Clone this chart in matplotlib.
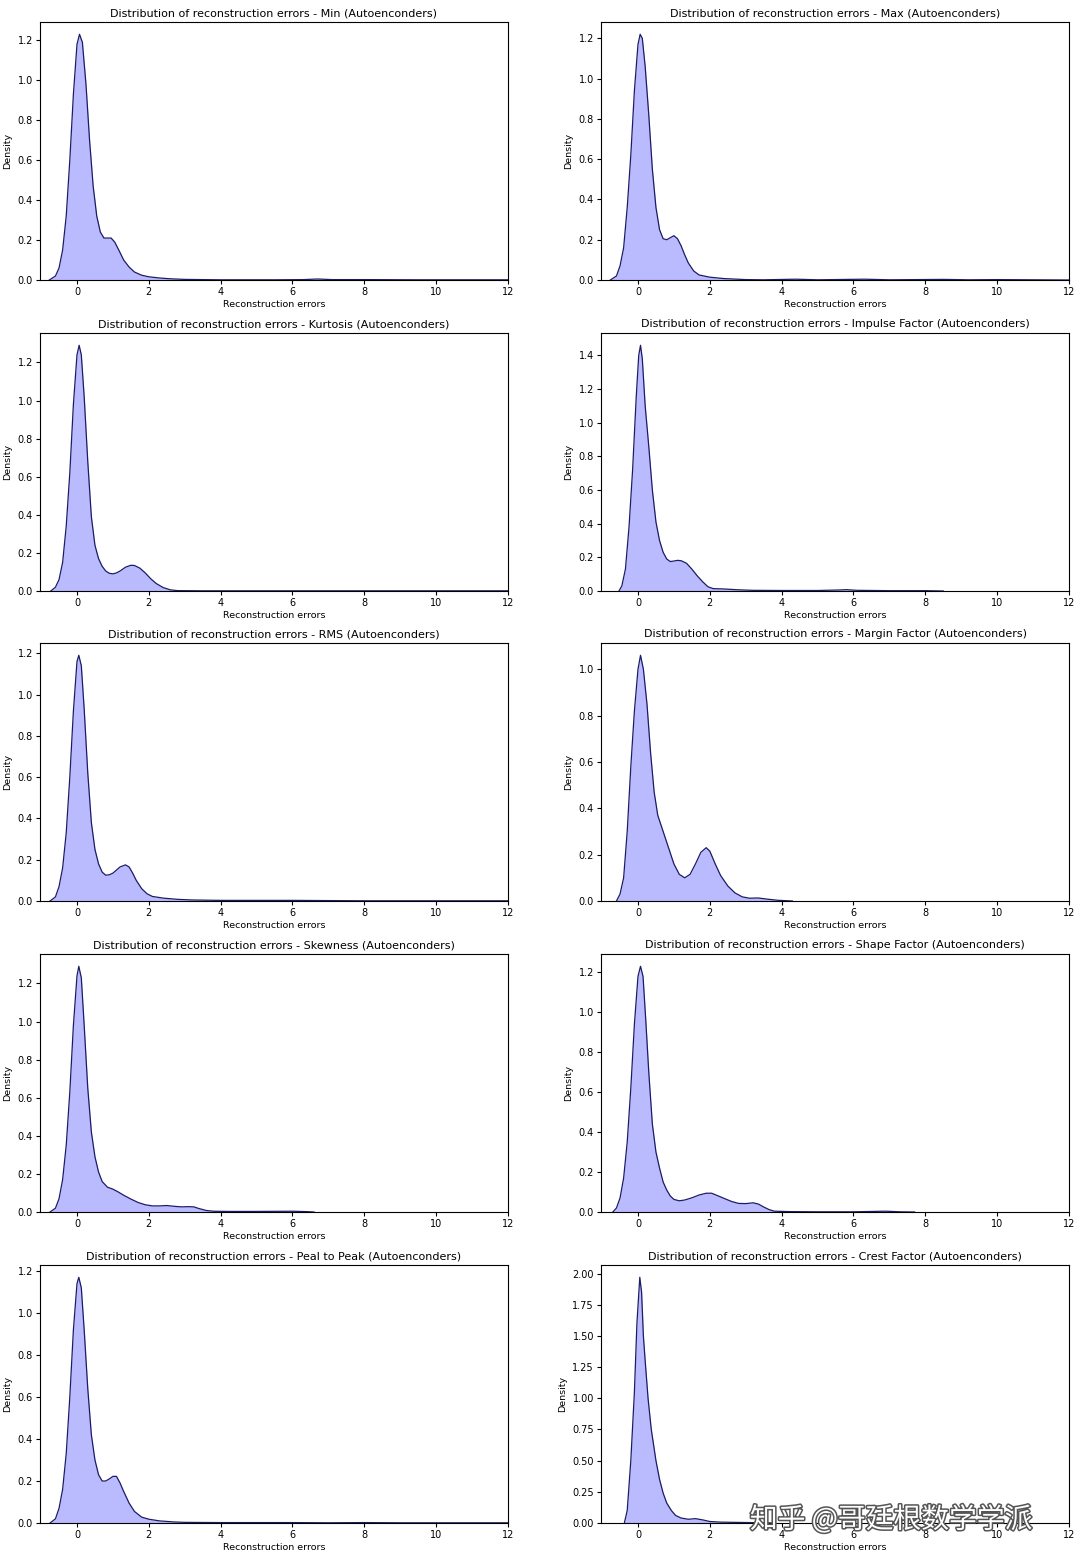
import matplotlib
matplotlib.use("Agg")
import matplotlib.pyplot as plt
import matplotlib.patheffects as pe

# feature names, in the order of the panels (row by row)
features = ["Min", "Max", "Kurtosis", "Impulse Factor", "RMS",
            "Margin Factor", "Skewness", "Shape Factor", "Peal to Peak", "Crest Factor"]

# density curves (x = reconstruction error, y = density)
min_x = [-0.77, -0.6, -0.5, -0.4, -0.3, -0.2, -0.1, 0.0, 0.07, 0.15, 0.25, 0.35, 0.45, 0.55, 0.65,
         0.75, 0.85, 0.95, 1.05, 1.15, 1.3, 1.45, 1.6, 1.8, 2.0, 2.3, 2.6, 3.0, 4.0, 5.5, 6.3, 6.7,
         7.1, 8.0, 9.5, 12.0]
min_y = [0.0, 0.02, 0.06, 0.15, 0.32, 0.6, 0.93, 1.18, 1.23, 1.19, 0.98, 0.7, 0.47, 0.32, 0.24,
         0.21, 0.21, 0.21, 0.19, 0.155, 0.1, 0.065, 0.04, 0.024, 0.016, 0.01, 0.006, 0.003, 0.001,
         0.001, 0.002, 0.005, 0.002, 0.002, 0.001, 0.001]

max_x = [-0.77, -0.6, -0.5, -0.4, -0.3, -0.2, -0.1, 0.0, 0.06, 0.12, 0.2, 0.3, 0.4, 0.5, 0.6, 0.7,
         0.8, 0.9, 1.0, 1.1, 1.2, 1.3, 1.4, 1.55, 1.7, 2.0, 2.4, 3.0, 3.5, 4.4, 5.0, 6.3, 7.0, 8.5,
         9.2, 10.0, 12.0]
max_y = [0.0, 0.02, 0.07, 0.16, 0.36, 0.62, 0.94, 1.17, 1.22, 1.2, 1.06, 0.82, 0.55, 0.36, 0.25,
         0.205, 0.2, 0.21, 0.22, 0.205, 0.17, 0.125, 0.085, 0.045, 0.025, 0.014, 0.007, 0.002,
         0.001, 0.004, 0.001, 0.004, 0.001, 0.003, 0.001, 0.002, 0.0]

kurt_x = [-0.73, -0.6, -0.5, -0.4, -0.3, -0.2, -0.1, 0.0, 0.06, 0.12, 0.2, 0.3, 0.4, 0.5, 0.6,
          0.7, 0.8, 0.9, 1.0, 1.1, 1.2, 1.35, 1.5, 1.6, 1.75, 1.9, 2.05, 2.2, 2.4, 2.6, 2.8, 3.5, 12.0]
kurt_y = [0.0, 0.02, 0.06, 0.15, 0.34, 0.62, 0.98, 1.24, 1.29, 1.24, 1.02, 0.68, 0.39, 0.24,
          0.17, 0.13, 0.105, 0.093, 0.09, 0.095, 0.105, 0.125, 0.135, 0.134, 0.12, 0.095, 0.065,
          0.04, 0.018, 0.006, 0.002, 0.001, 0.001]

imp_x = [-0.53, -0.45, -0.35, -0.25, -0.15, -0.05, 0.02, 0.07, 0.12, 0.2, 0.3, 0.4, 0.5, 0.6,
         0.7, 0.8, 0.9, 1.0, 1.1, 1.2, 1.35, 1.5, 1.65, 1.8, 1.95, 2.1, 2.4, 2.8, 3.2, 4.0, 5.0,
         5.6, 5.8, 6.1, 7.0, 8.0, 8.5]
imp_y = [0.0, 0.03, 0.13, 0.38, 0.72, 1.15, 1.4, 1.46, 1.38, 1.1, 0.86, 0.6, 0.41, 0.3, 0.23,
         0.19, 0.175, 0.178, 0.182, 0.18, 0.165, 0.13, 0.09, 0.055, 0.025, 0.014, 0.012, 0.007,
         0.004, 0.003, 0.003, 0.006, 0.008, 0.004, 0.002, 0.002, 0.0]

rms_x = [-0.75, -0.6, -0.5, -0.4, -0.3, -0.2, -0.1, 0.0, 0.05, 0.12, 0.2, 0.3, 0.4, 0.5, 0.6,
         0.7, 0.8, 0.9, 1.0, 1.1, 1.2, 1.35, 1.45, 1.55, 1.65, 1.8, 1.95, 2.1, 2.4, 2.8, 3.2, 4.0,
         5.0, 6.0, 7.0, 8.0, 10.0, 12.0]
rms_y = [0.0, 0.02, 0.07, 0.16, 0.33, 0.6, 0.92, 1.16, 1.19, 1.14, 0.93, 0.62, 0.38, 0.25, 0.18,
         0.14, 0.125, 0.127, 0.135, 0.15, 0.165, 0.175, 0.165, 0.135, 0.1, 0.06, 0.035, 0.022,
         0.014, 0.008, 0.005, 0.003, 0.003, 0.003, 0.002, 0.001, 0.001, 0.001]

margin_x = [-0.6, -0.5, -0.4, -0.3, -0.2, -0.1, 0.0, 0.07, 0.15, 0.25, 0.35, 0.45, 0.55, 0.7,
            0.85, 1.0, 1.15, 1.3, 1.45, 1.6, 1.75, 1.9, 2.0, 2.15, 2.3, 2.5, 2.7, 2.9, 3.1, 3.35,
            3.6, 3.9, 4.3]
margin_y = [0.0, 0.03, 0.1, 0.3, 0.58, 0.82, 1.0, 1.06, 1.0, 0.85, 0.64, 0.47, 0.37, 0.3, 0.23,
            0.16, 0.115, 0.1, 0.115, 0.16, 0.21, 0.23, 0.215, 0.16, 0.11, 0.065, 0.035, 0.018,
            0.012, 0.013, 0.008, 0.003, 0.0]

skew_x = [-0.75, -0.6, -0.5, -0.4, -0.3, -0.2, -0.1, 0.0, 0.05, 0.12, 0.2, 0.3, 0.4, 0.5, 0.6,
          0.7, 0.85, 1.0, 1.15, 1.3, 1.5, 1.7, 1.9, 2.1, 2.3, 2.5, 2.7, 2.9, 3.1, 3.25, 3.4, 3.6,
          3.8, 4.2, 5.0, 6.0, 6.4, 6.6]
skew_y = [0.0, 0.02, 0.07, 0.17, 0.35, 0.63, 0.98, 1.24, 1.29, 1.23, 0.98, 0.65, 0.42, 0.29,
          0.21, 0.16, 0.13, 0.12, 0.105, 0.088, 0.068, 0.05, 0.038, 0.032, 0.032, 0.034, 0.03,
          0.027, 0.028, 0.027, 0.018, 0.008, 0.004, 0.003, 0.003, 0.004, 0.002, 0.0]

shape_x = [-0.7, -0.6, -0.5, -0.4, -0.3, -0.2, -0.1, 0.0, 0.07, 0.14, 0.22, 0.3, 0.4, 0.5, 0.6,
           0.7, 0.8, 0.9, 1.0, 1.15, 1.3, 1.5, 1.7, 1.9, 2.05, 2.2, 2.4, 2.6, 2.8, 3.0, 3.2, 3.35,
           3.5, 3.65, 3.8, 4.2, 5.0, 6.0, 6.9, 7.3, 7.7]
shape_y = [0.0, 0.02, 0.07, 0.17, 0.35, 0.62, 0.94, 1.18, 1.23, 1.18, 0.95, 0.7, 0.44, 0.3, 0.22,
           0.15, 0.11, 0.08, 0.063, 0.056, 0.06, 0.071, 0.085, 0.094, 0.094, 0.083, 0.068, 0.053,
           0.043, 0.042, 0.046, 0.04, 0.025, 0.012, 0.004, 0.002, 0.001, 0.001, 0.004, 0.001, 0.0]

p2p_x = [-0.75, -0.6, -0.5, -0.4, -0.3, -0.2, -0.1, 0.0, 0.05, 0.12, 0.2, 0.3, 0.4, 0.5, 0.6,
         0.7, 0.8, 0.9, 1.0, 1.1, 1.2, 1.3, 1.45, 1.6, 1.8, 2.0, 2.3, 2.7, 3.0, 4.0, 5.0, 6.0,
         7.0, 8.0, 9.0, 10.0, 12.0]
p2p_y = [0.0, 0.02, 0.07, 0.16, 0.33, 0.6, 0.92, 1.14, 1.17, 1.12, 0.92, 0.64, 0.42, 0.3, 0.23,
         0.2, 0.2, 0.21, 0.222, 0.222, 0.19, 0.15, 0.095, 0.055, 0.028, 0.018, 0.01, 0.005,
         0.003, 0.002, 0.002, 0.002, 0.001, 0.002, 0.001, 0.001, 0.001]

crest_x = [-0.38, -0.3, -0.2, -0.1, -0.03, 0.05, 0.1, 0.15, 0.2, 0.28, 0.37, 0.5, 0.6, 0.7, 0.8,
           0.93, 1.05, 1.2, 1.4, 1.6, 1.8, 2.0, 2.3, 2.7, 3.2, 3.8]
crest_y = [0.0, 0.1, 0.5, 1.05, 1.6, 1.97, 1.85, 1.5, 1.3, 1.0, 0.75, 0.5, 0.35, 0.24, 0.16, 0.1,
           0.06, 0.04, 0.03, 0.035, 0.025, 0.012, 0.007, 0.005, 0.003, 0.0]

curves = [(min_x, min_y), (max_x, max_y), (kurt_x, kurt_y), (imp_x, imp_y), (rms_x, rms_y),
          (margin_x, margin_y), (skew_x, skew_y), (shape_x, shape_y), (p2p_x, p2p_y),
          (crest_x, crest_y)]

fig = plt.figure(figsize=(10.8, 15.58), dpi=100)
W, H = 1080.0, 1558.0
col_left = [40, 601]
ax_w = 468
ax_h = 258
row_bottom = [280, 591, 901, 1212, 1523]

for i, (name, (xs, ys)) in enumerate(zip(features, curves)):
    r, c = divmod(i, 2)
    ax = fig.add_axes([col_left[c] / W, 1 - row_bottom[r] / H, ax_w / W, ax_h / H])
    ax.fill_between(xs, ys, 0, color="blue", alpha=0.27, linewidth=0)
    ax.plot(xs, ys, color="#1c1c66", linewidth=0.9)
    ax.set_xlim(-1.03, 12)
    ax.set_ylim(0, max(ys) * 1.05)
    ax.set_xticks([0, 2, 4, 6, 8, 10, 12])
    ax.set_title(f"Distribution of reconstruction errors - {name} (Autoenconders)",
                 fontsize=8.0, pad=4)
    ax.set_xlabel("Reconstruction errors", fontsize=6.8, labelpad=2)
    ax.set_ylabel("Density", fontsize=6.8, labelpad=4)
    ax.tick_params(labelsize=7, length=3, pad=2)

# site watermark in the bottom right corner
fig.text(0.825, 0.0245, "知乎 @哥廷根数学学派", fontsize=20, color="white", ha="center", va="center",
         family=["Noto Sans CJK SC", "DejaVu Sans"],
         path_effects=[pe.withStroke(linewidth=2.2, foreground="#555555")])

plt.savefig("out.png", dpi=100)
